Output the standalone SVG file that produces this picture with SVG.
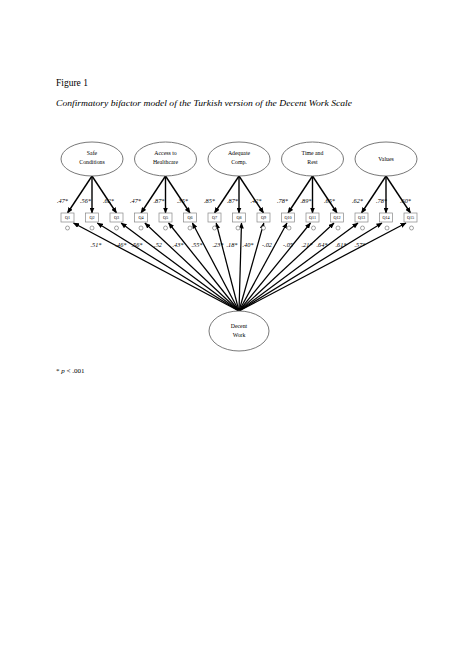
<svg xmlns="http://www.w3.org/2000/svg" width="474" height="670" viewBox="0 0 474 670">
<defs>
<style>
text{font-family:"Liberation Serif","Times New Roman",serif;fill:#000}
.lat{fill:#fff;stroke:#555;stroke-width:0.8}
.box{fill:#fff;stroke:#888;stroke-width:0.7}
.err{fill:#fff;stroke:#666;stroke-width:0.6}
.lt{font-size:5.8px;text-anchor:middle}
.bt{font-size:4.2px;text-anchor:middle}
.ld{font-size:6.3px;font-style:italic}
.up{stroke:#000;stroke-width:1.4;fill:none;marker-end:url(#ah)}
.lo{stroke:#000;stroke-width:1.25;fill:none;marker-end:url(#ah)}
</style>
<marker id="ah" viewBox="0 0 12 10" refX="11" refY="5" markerWidth="6" markerHeight="5" markerUnits="userSpaceOnUse" orient="auto"><path d="M0,0 L12,5 L0,10 z" fill="#000"/></marker>
</defs>
<rect width="474" height="670" fill="#fff"/>
<text x="56" y="86" style="font-size:9.5px">Figure 1</text>
<text x="56" y="106" style="font-size:9px;font-style:italic" textLength="296" lengthAdjust="spacingAndGlyphs">Confirmatory bifactor model of the Turkish version of the Decent Work Scale</text>
<text x="56" y="373" style="font-size:7px">* <tspan font-style="italic">p</tspan> &lt; .001</text>

<g id="connectors">
<line class="up" x1="92" y1="176" x2="67.5" y2="213"/>
<line class="up" x1="92" y1="176" x2="92" y2="213"/>
<line class="up" x1="92" y1="176" x2="116.5" y2="213"/>
<line class="up" x1="165.5" y1="176" x2="141" y2="213"/>
<line class="up" x1="165.5" y1="176" x2="165.5" y2="213"/>
<line class="up" x1="165.5" y1="176" x2="190" y2="213"/>
<line class="up" x1="239" y1="176" x2="214.5" y2="213"/>
<line class="up" x1="239" y1="176" x2="239" y2="213"/>
<line class="up" x1="239" y1="176" x2="263.5" y2="213"/>
<line class="up" x1="312.5" y1="176" x2="288" y2="213"/>
<line class="up" x1="312.5" y1="176" x2="312.5" y2="213"/>
<line class="up" x1="312.5" y1="176" x2="337" y2="213"/>
<line class="up" x1="386" y1="176" x2="361.5" y2="213"/>
<line class="up" x1="386" y1="176" x2="386" y2="213"/>
<line class="up" x1="386" y1="176" x2="410.5" y2="213"/>

<line class="lo" x1="239" y1="311" x2="73.5" y2="223"/>
<line class="lo" x1="239" y1="311" x2="97.3" y2="223"/>
<line class="lo" x1="239" y1="311" x2="121.1" y2="223"/>
<line class="lo" x1="239" y1="311" x2="144.9" y2="223"/>
<line class="lo" x1="239" y1="311" x2="168.6" y2="223"/>
<line class="lo" x1="239" y1="311" x2="192.4" y2="223"/>
<line class="lo" x1="239" y1="311" x2="216.2" y2="223"/>
<line class="lo" x1="239" y1="311" x2="241.5" y2="223"/>
<line class="lo" x1="239" y1="311" x2="263.8" y2="223"/>
<line class="lo" x1="239" y1="311" x2="287" y2="223"/>
<line class="lo" x1="239" y1="311" x2="310.5" y2="223"/>
<line class="lo" x1="239" y1="311" x2="334" y2="223"/>
<line class="lo" x1="239" y1="311" x2="358" y2="223"/>
<line class="lo" x1="239" y1="311" x2="382" y2="223"/>
<line class="lo" x1="239" y1="311" x2="406" y2="223"/>

<g class="ld" text-anchor="end">
<text x="68" y="203">.47*</text>
<text x="91" y="203">.56*</text>
<text x="114" y="203">.62*</text>
<text x="141" y="203">.47*</text>
<text x="164.5" y="203">.87*</text>
<text x="188" y="203">.35*</text>
<text x="215" y="203">.85*</text>
<text x="238" y="203">.87*</text>
<text x="261.5" y="203">.42*</text>
<text x="288" y="203">.78*</text>
<text x="311.5" y="203">.89*</text>
<text x="335" y="203">.65*</text>
<text x="363" y="203">.62*</text>
<text x="387" y="203">.78*</text>
<text x="411" y="203">.60*</text>
</g>
<g class="ld" text-anchor="middle">
<text x="96" y="247">.51*</text>
<text x="121" y="247">.46*</text>
<text x="137" y="247">.56*</text>
<text x="158" y="247">.52</text>
<text x="178" y="247">.43*</text>
<text x="197" y="247">.55*</text>
<text x="218" y="247">.23*</text>
<text x="232" y="247">.18*</text>
<text x="248" y="247">.40*</text>
<text x="267" y="247">-.02</text>
<text x="288" y="247">-.05</text>
<text x="307" y="247">.21*</text>
<text x="322" y="247">.64*</text>
<text x="341" y="247">.61*</text>
<text x="360" y="247">.57*</text>
</g>
</g>

<g id="f1"><ellipse class="lat" cx="92" cy="159" rx="31" ry="17"/><text class="lt" x="92" y="155">Safe</text><text class="lt" x="92" y="164">Conditions</text></g>
<g id="f2"><ellipse class="lat" cx="165.5" cy="159" rx="31" ry="17"/><text class="lt" x="165.5" y="155">Access to</text><text class="lt" x="165.5" y="164">Healthcare</text></g>
<g id="f3"><ellipse class="lat" cx="239" cy="159" rx="31" ry="17"/><text class="lt" x="239" y="155">Adequate</text><text class="lt" x="239" y="164">Comp.</text></g>
<g id="f4"><ellipse class="lat" cx="312.5" cy="159" rx="31" ry="17"/><text class="lt" x="312.5" y="155">Time and</text><text class="lt" x="312.5" y="164">Rest</text></g>
<g id="f5"><ellipse class="lat" cx="386" cy="159" rx="31" ry="17"/><text class="lt" x="386" y="161">Values</text></g>
<g id="dw"><ellipse class="lat" cx="239" cy="331" rx="30" ry="20"/><text class="lt" x="239" y="328">Decent</text><text class="lt" x="239" y="337">Work</text></g>

<g id="q1"><rect class="box" x="61" y="213" width="13" height="9"/><text class="bt" x="67.5" y="219">Q1</text><circle class="err" cx="67.5" cy="228" r="2"/></g>
<g id="q2"><rect class="box" x="85.5" y="213" width="13" height="9"/><text class="bt" x="92" y="219">Q2</text><circle class="err" cx="92" cy="228" r="2"/></g>
<g id="q3"><rect class="box" x="110" y="213" width="13" height="9"/><text class="bt" x="116.5" y="219">Q3</text><circle class="err" cx="116.5" cy="228" r="2"/></g>
<g id="q4"><rect class="box" x="134.5" y="213" width="13" height="9"/><text class="bt" x="141" y="219">Q4</text><circle class="err" cx="141" cy="228" r="2"/></g>
<g id="q5"><rect class="box" x="159" y="213" width="13" height="9"/><text class="bt" x="165.5" y="219">Q5</text><circle class="err" cx="165.5" cy="228" r="2"/></g>
<g id="q6"><rect class="box" x="183.5" y="213" width="13" height="9"/><text class="bt" x="190" y="219">Q6</text><circle class="err" cx="190" cy="228" r="2"/></g>
<g id="q7"><rect class="box" x="208" y="213" width="13" height="9"/><text class="bt" x="214.5" y="219">Q7</text><circle class="err" cx="214.5" cy="228" r="2"/></g>
<g id="q8"><rect class="box" x="232.5" y="213" width="13" height="9"/><text class="bt" x="239" y="219">Q8</text><circle class="err" cx="238" cy="228" r="2"/></g>
<g id="q9"><rect class="box" x="257" y="213" width="13" height="9"/><text class="bt" x="263.5" y="219">Q9</text><circle class="err" cx="263.5" cy="228" r="2"/></g>
<g id="q10"><rect class="box" x="281.5" y="213" width="13" height="9"/><text class="bt" x="288" y="219">Q10</text><circle class="err" cx="289" cy="228" r="2"/></g>
<g id="q11"><rect class="box" x="306" y="213" width="13" height="9"/><text class="bt" x="312.5" y="219">Q11</text><circle class="err" cx="313.5" cy="228" r="2"/></g>
<g id="q12"><rect class="box" x="330.5" y="213" width="13" height="9"/><text class="bt" x="337" y="219">Q12</text><circle class="err" cx="338" cy="228" r="2"/></g>
<g id="q13"><rect class="box" x="355" y="213" width="13" height="9"/><text class="bt" x="361.5" y="219">Q13</text><circle class="err" cx="362.5" cy="228" r="2"/></g>
<g id="q14"><rect class="box" x="379.5" y="213" width="13" height="9"/><text class="bt" x="386" y="219">Q14</text><circle class="err" cx="387" cy="228" r="2"/></g>
<g id="q15"><rect class="box" x="404" y="213" width="13" height="9"/><text class="bt" x="410.5" y="219">Q15</text><circle class="err" cx="411.5" cy="228" r="2"/></g>
</svg>
